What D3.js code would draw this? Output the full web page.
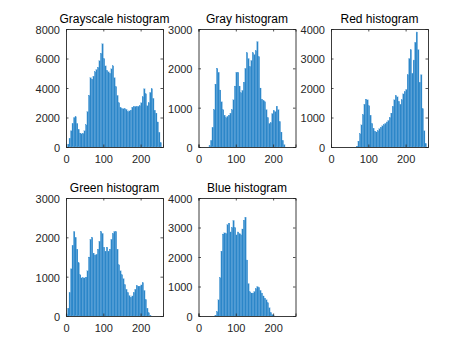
<!DOCTYPE html>
<html>
<head>
<meta charset="utf-8">
<script src="https://cdn.jsdelivr.net/npm/d3@7"></script>
<style>
  html, body { margin: 0; padding: 0; background: #fff; }
  svg { display: block; }
  text { font-family: "Liberation Sans", Arial, sans-serif; }
</style>
</head>
<body>
<svg id="chart" width="474" height="355"></svg>
<script>
// ---- data (bin width 4 gray levels, bins start at 0,4,8,...,252) ----
const binWidth = 4;
const titles = ["Grayscale histogram", "Gray histogram", "Red histogram", "Green histogram", "Blue histogram"];
const xTicks = [0, 100, 200];
const yTicks1 = [0, 2000, 4000, 6000, 8000];
const yTicks2 = [0, 1000, 2000, 3000];
const yTicks3 = [0, 1000, 2000, 3000, 4000];
const yTicks4 = [0, 1000, 2000, 3000];
const yTicks5 = [0, 1000, 2000, 3000, 4000];

const grayscaleCounts = [0, 200, 600, 1100, 1600, 2000, 2050, 1600, 1200, 950, 900, 920, 1100, 1500, 2400, 3500,
  4700, 4600, 4800, 5100, 5250, 5400, 5850, 6350, 7000, 6000, 5500, 5200, 5100, 5000, 5300, 5500,
  4700, 4100, 3500, 3000, 2700, 2600, 2600, 2600, 2550, 2400, 2450, 2500, 2700, 2750, 2750, 2750,
  2760, 2800, 3000, 3400, 3950, 3600, 2800, 3000, 3700, 3950, 3300, 2500, 2300, 1700, 1000, 300];

const grayCounts = [0, 0, 0, 0, 0, 0, 0, 30, 170, 500, 950, 1600, 2000, 1900, 1450, 1150,
  950, 810, 750, 780, 810, 860, 950, 1200, 1550, 1900, 1900, 1550, 1380, 1440, 1650, 2000,
  2400, 2250, 2050, 2200, 2400, 2350, 2450, 2680, 2300, 1500, 1220, 1190, 1150, 950, 750, 600,
  620, 850, 930, 900, 1040, 950, 650, 380, 170, 60, 0, 0, 0, 0, 0, 0];

const redCounts = [0, 0, 0, 0, 0, 0, 0, 0, 0, 0, 0, 0, 0, 0, 0, 0,
  0, 30, 200, 450, 750, 1100, 1450, 1620, 1600, 1400, 1080, 800, 640, 540, 510, 550,
  620, 670, 720, 760, 800, 850, 900, 1000, 1150, 1380, 1600, 1750, 1700, 1550, 1450, 1600,
  1800, 1880, 1950, 2450, 3000, 3300, 2500, 2950, 3550, 3900, 3300, 2200, 2450, 1300, 550, 120];

const greenCounts = [50, 200, 600, 1200, 1800, 2150, 2000, 1700, 1350, 1050, 970, 970, 970, 990, 1150, 1500,
  1950, 2000, 1600, 1550, 1570, 1700, 1900, 2150, 2100, 1750, 1650, 1750, 1650, 1700, 1950, 2100,
  2150, 2150, 1700, 1300, 1150, 1050, 950, 800, 680, 600, 520, 480, 510, 600, 680, 780,
  760, 760, 790, 850, 650, 420, 200, 80, 20, 0, 0, 0, 0, 0, 0, 0];

const blueCounts = [0, 0, 0, 0, 0, 0, 0, 0, 0, 0, 0, 30, 150, 550, 1300, 2200,
  2780, 2820, 2800, 3100, 3150, 2850, 3000, 3240, 3000, 2750, 2850, 2800, 2750, 2950, 3250, 3350,
  1900, 1100, 820, 780, 780, 830, 930, 1000, 970, 870, 780, 680, 610, 550, 450, 280,
  120, 50, 10, 0, 0, 0, 0, 0, 0, 0, 0, 0, 0, 0, 0, 0];

const series = [grayscaleCounts, grayCounts, redCounts, greenCounts, blueCounts];
const yTickSets = [yTicks1, yTicks2, yTicks3, yTicks4, yTicks5];

// ---- layout ----
const colLeft = [66, 198.5, 331];
const rowTop = [29, 198];
const W = 97, H = 118;
const xMax = 260;
const barColor = "#2c86c8";
const axisColor = "#262626";

const svg = d3.select("#chart");

series.forEach((counts, k) => {
  const col = k % 3, row = Math.floor(k / 3);
  const left = colLeft[col], top = rowTop[row];
  const yt = yTickSets[k];
  const yMax = yt[yt.length - 1];

  const x = d3.scaleLinear().domain([0, xMax]).range([0, W]);
  const y = d3.scaleLinear().domain([0, yMax]).range([H, 0]);

  const g = svg.append("g").attr("transform", `translate(${left},${top})`);

  // bars
  g.append("g").selectAll("rect").data(counts).join("rect")
    .attr("x", (d, i) => x(i * binWidth))
    .attr("width", (d, i) => x((i + 1) * binWidth) - x(i * binWidth))
    .attr("y", d => y(d))
    .attr("height", d => H - y(d))
    .attr("fill", barColor)
    .attr("stroke", "#4a9ddb")
    .attr("stroke-width", 0.15);

  // axes (ticks inside)
  const axB = d3.axisBottom(x).tickValues(xTicks).tickSize(-2.5).tickPadding(8).tickFormat(d3.format("d"));
  const axL = d3.axisLeft(y).tickValues(yt).tickSize(-2.5).tickPadding(6).tickFormat(d3.format("d"));
  const axT = d3.axisTop(x).tickValues(xTicks).tickSize(-2.5).tickFormat("");
  const axR = d3.axisRight(y).tickValues(yt).tickSize(-2.5).tickFormat("");

  const gb = g.append("g").attr("transform", `translate(0,${H})`).call(axB);
  const gl = g.append("g").call(axL);
  const gt = g.append("g").call(axT);
  const gr = g.append("g").attr("transform", `translate(${W},0)`).call(axR);

  [gb, gl, gt, gr].forEach(a => {
    a.select(".domain").attr("stroke", axisColor).attr("stroke-width", 0.9);
    a.selectAll(".tick line").attr("stroke", axisColor).attr("stroke-width", 0.8);
    a.selectAll(".tick text")
      .attr("fill", axisColor)
      .style("font-size", "11px")
      .style("font-family", '"Liberation Sans", Arial, sans-serif');
  });
  gl.selectAll(".tick text").attr("dy", "0.4em");
  gb.selectAll(".tick text").attr("dy", "0.75em");

  // title
  g.append("text")
    .attr("x", W / 2)
    .attr("y", -6.5)
    .attr("text-anchor", "middle")
    .attr("fill", "#000")
    .style("font-size", "12px")
    .text(titles[k]);
});
</script>
</body>
</html>
